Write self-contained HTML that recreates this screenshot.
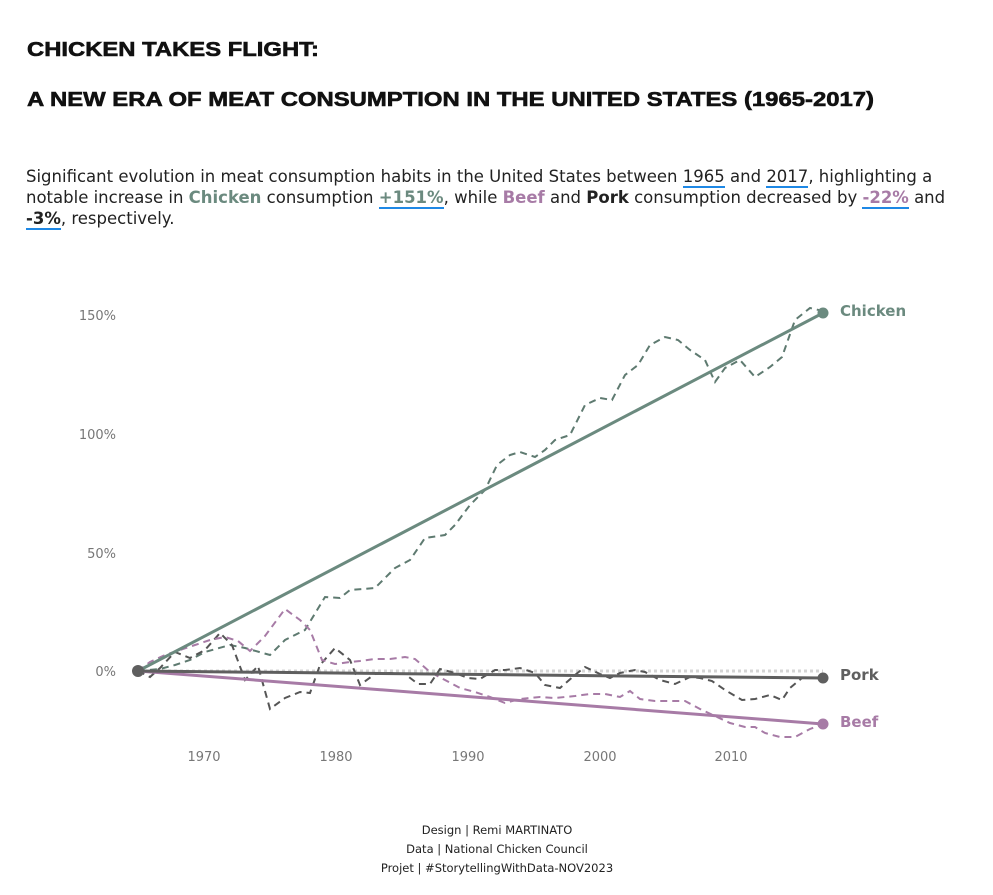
<!DOCTYPE html>
<html><head><meta charset="utf-8"><style>
body{margin:0;background:#fff;width:993px;height:895px;overflow:hidden;position:relative;font-family:"DejaVu Sans","Liberation Sans",sans-serif;}
.sub{position:absolute;left:26px;top:166px;font-size:16.5px;line-height:21px;color:#222;white-space:nowrap;}
.u{border-bottom:2px solid #1e88e5;}
.c{color:#6b8a7f;font-weight:bold}.b{color:#a77ba6;font-weight:bold}.p{color:#222;font-weight:bold}
</style></head><body>
<svg width="993" height="895" style="position:absolute;left:0;top:0">
<g font-family="Liberation Sans, Arial, sans-serif" font-weight="bold" fill="#111" font-size="20">
<text x="27" y="56" textLength="292" lengthAdjust="spacingAndGlyphs" stroke="#111" stroke-width="0.6">CHICKEN TAKES FLIGHT:</text>
<text x="27" y="106" textLength="847" lengthAdjust="spacingAndGlyphs" stroke="#111" stroke-width="0.6">A NEW ERA OF MEAT CONSUMPTION IN THE UNITED STATES (1965-2017)</text>
</g>
<g font-family="DejaVu Sans, sans-serif" font-size="13" fill="#777" text-anchor="end">
<text x="116" y="320">150%</text><text x="116" y="439">100%</text><text x="116" y="558">50%</text><text x="116" y="676">0%</text>
</g>
<g font-family="DejaVu Sans, sans-serif" font-size="13" fill="#777" text-anchor="middle">
<text x="204" y="761">1970</text><text x="336" y="761">1980</text><text x="468" y="761">1990</text><text x="600" y="761">2000</text><text x="731" y="761">2010</text>
</g>
<line x1="138" y1="671" x2="823" y2="671" stroke="#d5d5d5" stroke-width="3" stroke-dasharray="3,3"/>
<g fill="none" stroke-width="2" stroke-dasharray="7,5">
<polyline stroke="#5e7a70" points="138,671 160,669 175,665 190,660 205,652 230,645 245,648 270,655 285,640 305,630 325,597 340,598 350,590 375,588 395,568 410,560 425,538 445,535 455,525 470,505 485,490 497,465 510,455 520,452 535,457 545,450 555,440 570,435 585,405 600,398 612,400 625,375 638,365 650,345 665,337 678,340 690,350 705,360 715,382 725,368 740,360 755,377 770,367 782,357 795,320 810,308 823,311"/>
<polyline stroke="#555" points="138,671 150,677 160,668 175,652 190,658 205,650 220,633 232,645 245,680 258,666 270,709 285,698 300,692 310,693 320,665 335,648 350,660 360,685 375,674 390,673 405,674 418,684 430,684 440,669 455,673 468,678 480,679 495,670 505,670 520,668 535,673 545,685 560,688 575,675 585,667 600,674 610,678 620,673 635,670 645,672 660,680 675,684 690,677 700,678 712,681 725,690 742,700 755,699 770,695 782,700 790,688 802,678 823,678"/>
<polyline stroke="#a77ba6" points="138,671 150,662 165,655 180,650 195,645 210,640 225,637 238,641 250,651 265,636 285,609 300,620 310,630 322,660 335,664 350,662 360,661 375,659 390,659 405,657 415,659 430,672 445,680 460,688 475,692 490,697 505,703 520,699 540,697 555,698 575,696 590,694 605,694 620,697 630,691 640,699 655,701 670,701 685,701 700,709 715,716 730,723 745,727 755,727 765,733 780,737 795,737 810,729 823,724"/>
</g>
<line x1="138" y1="671" x2="823" y2="313" stroke="#6b8a7f" stroke-width="3"/>
<line x1="138" y1="671" x2="823" y2="724" stroke="#a77ba6" stroke-width="3"/>
<line x1="138" y1="671" x2="823" y2="678" stroke="#5f5f5f" stroke-width="3"/>
<circle cx="138" cy="671" r="6" fill="#5f5f5f"/>
<circle cx="823" cy="313" r="5.5" fill="#6b8a7f"/>
<circle cx="823" cy="678" r="5.5" fill="#5f5f5f"/>
<circle cx="823" cy="724" r="5.5" fill="#a77ba6"/>
<g font-family="DejaVu Sans, sans-serif" font-size="15" font-weight="bold">
<text x="840" y="316" fill="#6b8a7f">Chicken</text>
<text x="840" y="680" fill="#5f5f5f">Pork</text>
<text x="840" y="727" fill="#a77ba6">Beef</text>
</g>
<g font-family="DejaVu Sans, sans-serif" font-size="11.5" fill="#222" text-anchor="middle">
<text x="497" y="834">Design | Remi MARTINATO</text>
<text x="497" y="853">Data | National Chicken Council</text>
<text x="497" y="872">Projet | #StorytellingWithData-NOV2023</text>
</g>
</svg>
<div class="sub">Significant evolution in meat consumption habits in the United States between <span class="u">1965</span> and <span class="u">2017</span>, highlighting a<br>notable increase in <span class="c">Chicken</span> consumption <span class="u c">+151%</span>, while <span class="b">Beef</span> and <span class="p">Pork</span> consumption decreased by <span class="u b">-22%</span> and<br><span class="u p">-3%</span>, respectively.</div>
</body></html>
